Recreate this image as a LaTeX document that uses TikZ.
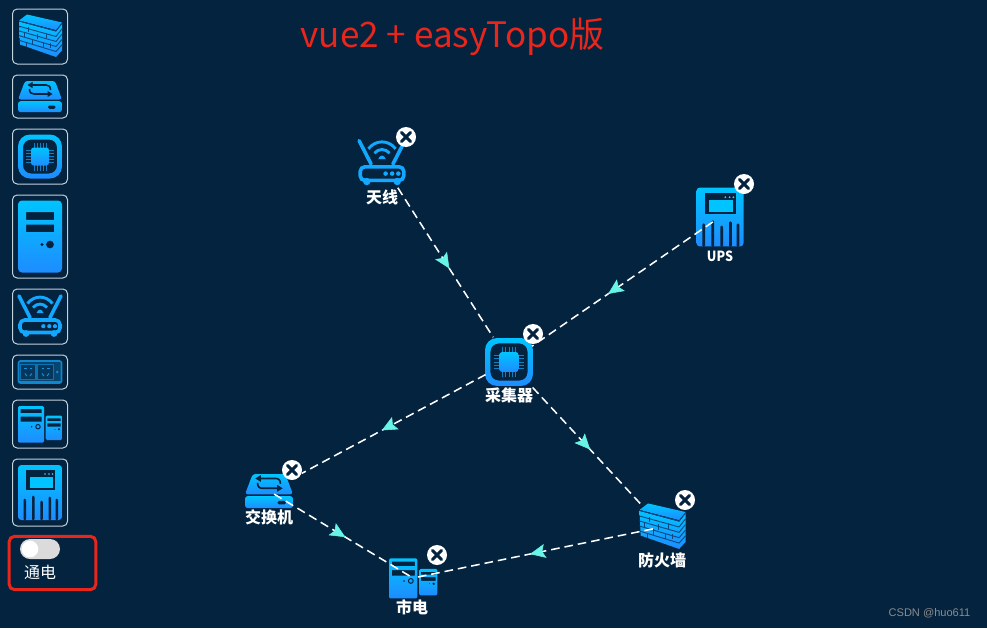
\documentclass[tikz,border=0pt]{standalone}
\usepackage{fontspec}
\setmainfont{Noto Sans CJK SC}
\newfontfamily\latinfont{Liberation Sans}
\usetikzlibrary{arrows.meta,decorations.markings}
\definecolor{bgc}{HTML}{03233F}
\definecolor{gtop}{HTML}{00C4FF}
\definecolor{gbot}{HTML}{1E8CFF}
\definecolor{midb}{HTML}{12A8FF}
\definecolor{arrowc}{HTML}{66F5E6}
\definecolor{boxc}{HTML}{C4D2DC}
\definecolor{redc}{HTML}{E8261C}
\tikzset{
  x=0.75pt,y=-0.75pt,
  grad/.style={top color=gtop,bottom color=gbot,draw=none,even odd rule},
  palettebox/.style={draw=boxc,line width=0.75pt,rounded corners=3.5pt},
  link/.style={draw=white,line width=1.15pt,dash pattern=on 6.5pt off 3.7pt},
  midarrow/.style={postaction={decorate},decoration={markings,mark=at position 0.53 with {\arrow[arrowc]{Stealth[length=11.5pt,width=10.5pt,inset=2.2pt]}}}},
  lbl/.style={text=white,font=\fontsize{12}{12}\selectfont\bfseries,inner sep=0pt},
  closebtn/.style={circle,fill=white,minimum size=15pt,inner sep=0pt},
  wallicon/.pic={
    \shade[grad] (-21,-16) -- (-13,-22) -- (22,-14) -- (16,-6.5) -- cycle;
    \shade[grad] (-21,-15) -- (16,-5) -- (16,20.5) -- (-20,8) -- cycle;
    \shade[grad] (16,-5) -- (22,-13) -- (22,14) -- (16,20.5) -- cycle;
    \foreach \k in {1,...,4}{
      \draw[bgc!65!gbot,line width=0.7pt] (-21,{-15+\k*4.7}) -- (16,{-5+\k*5});
      \draw[bgc!65!gbot,line width=0.7pt] (16,{-5+\k*5}) -- (22,{-13+\k*5.3});
    }
    \draw[bgc!65!gbot,line width=0.7pt] (-21,-15.5) -- (16,-5.5) -- (22,-13);
    \foreach \xa/\ya in {-12/-9.5,6/-3.5,-3/-2.5,-16/-5,10/6.5,-8/2,-14/5.5,3/6}{
      \draw[bgc!65!gbot,line width=0.7pt] (\xa,\ya) -- (\xa,{\ya+5});
    }
  },
  switchicon/.pic={
    \shade[grad,rounded corners=2pt] (-15,-15.5) -- (15,-15.5) -- (22,3) -- (-22,3) -- cycle;
    \shade[grad,rounded corners=2pt] (-22,4.7) rectangle (22,15.7);
    \fill[bgc,rounded corners=1pt] (8,9) rectangle (15.5,12.3);
    \draw[bgc,line width=1.2pt] (10.5,-6.5) .. controls (10.5,-10) and (9,-11.5) .. (6,-11.5) -- (-8,-11.5);
    \fill[bgc] (-12.5,-11.5) -- (-7.5,-14.6) -- (-7.5,-8.4) -- cycle;
    \draw[bgc,line width=1.2pt] (-10.5,-7.5) .. controls (-10.5,-4) and (-9,-2.5) .. (-6,-2.5) -- (8,-2.5);
    \fill[bgc] (12.5,-2.5) -- (7.5,-5.6) -- (7.5,0.6) -- cycle;
  },
  chipicon/.pic={
    \shade[grad,rounded corners=9pt] (-22,-22) rectangle (22,22) [rounded corners=6pt] (-17,-17) rectangle (17,17);
    \foreach \t in {-6,-3,0,3,6}{
      \draw[midb!70!bgc,line width=0.5pt] (\t,-14) -- (\t,14);
      \draw[midb!70!bgc,line width=0.5pt] (-14,\t) -- (14,\t);
    }
    \shade[grad,rounded corners=2pt] (-9,-9) rectangle (9,9);
  },
  towericon/.pic={
    \shade[grad,rounded corners=3pt] (-22,-36) rectangle (22,36)
      [sharp corners] (-14,-24.3) rectangle (14,-16.7) (-14,-12) rectangle (14,-4.3)
      (10,8) circle[radius=4] (2,8) circle[radius=1.8];
  },
  routericon/.pic={
    \draw[midb,line width=2.7pt,line cap=round] (-21,-20.5) -- (-10,1);
    \draw[midb,line width=2.7pt,line cap=round] (21,-20.5) -- (10,1);
    \draw[midb,line width=2.2pt] (-7,-9) .. controls (-3,-13.5) and (3,-13.5) .. (7,-9);
    \draw[midb,line width=2.2pt] (-12.5,-13) .. controls (-6,-21.5) and (6,-21.5) .. (12.5,-13);
    \fill[midb] (-3.5,-3.5) .. controls (-2,-8) and (2,-8) .. (3.5,-3.5) -- cycle;
    \draw[midb,line width=2.7pt,rounded corners=3.5pt,fill=bgc] (-20,3.5) rectangle (20,16);
    \fill[midb] (3.3,9.7) circle[radius=2.1] (9.3,9.7) circle[radius=2.1] (15,9.7) circle[radius=2.1];
    \fill[midb] (-14,17) circle[radius=3.4] (14,17) circle[radius=3.4];
  },
  socketicon/.pic={
    \draw[midb!75!bgc,line width=1.2pt,fill=midb!25!bgc,rounded corners=1.5pt] (-21.5,-11) rectangle (21.5,11);
    \draw[midb!60!bgc,line width=0.8pt,fill=bgc!85!midb] (-19.3,-7.5) rectangle (-4,7.5);
    \draw[midb!60!bgc,line width=0.8pt,fill=bgc!85!midb] (-2.3,-7.5) rectangle (13.3,7.5);
    \fill[midb!80!bgc] (17.3,0) circle[radius=1.4];
    \foreach \c in {-11.6,5.5}{
      \draw[midb!85!bgc,line width=0.7pt] (\c-4,-4) -- (\c-1.5,-4) (\c+1.5,-4) -- (\c+4,-4);
      \draw[midb!85!bgc,line width=0.7pt] (\c-3.5,1.5) -- (\c-1.5,4) (\c+3.5,1.5) -- (\c+1.5,4);
    }
    \draw[midb!75!bgc,line width=0.6pt] (-21,9) -- (21,9);
  },
  serversicon/.pic={
    \shade[grad,rounded corners=1pt] (-22,-18) rectangle (4,18.7)
      [sharp corners] (-19.3,-15) rectangle (1.7,-11) (-19.3,-7.3) rectangle (1.7,-2.3)
      (-8.3,2.7) circle[radius=1];
    \draw[bgc,line width=0.75pt] (-2,2.7) circle[radius=2.2];
    \shade[grad,rounded corners=1pt] (5.7,-8.3) rectangle (22.3,16)
      [sharp corners] (7.3,-5.7) rectangle (20.7,-3) (7.3,-0.7) rectangle (20.7,2.7)
      (19,5.3) circle[radius=1.4] (15,5.3) circle[radius=0.7];
  },
  upsicon/.pic={
    \shade[grad,rounded corners=2.5pt] (-22,-27.5) rectangle (22,27.5);
    \fill[bgc] (-14,-22.5) rectangle (15,-2.5);
    \fill[gtop] (-10,-15.5) rectangle (12.5,-5);
    \fill[midb!70!white] (5,-18.5) circle[radius=0.9] (9,-18.5) circle[radius=0.9] (12.5,-18.5) circle[radius=0.9];
    \foreach \xa/\ya in {-16.5/6,-8/3,0.3/8,8.5/4,15.5/6}{
      \fill[bgc,rounded corners=1pt] (\xa,\ya) rectangle ({\xa+2.5},28);
    }
  }
}
\begin{document}
\begin{tikzpicture}
\useasboundingbox (0,0) rectangle (987,628);
\fill[bgc] (0,0) rectangle (987,628);
% palette
\node[palettebox,minimum width=41.25pt,minimum height=41.25pt,inner sep=0pt] (p1) at (40,36.5) {};
\node[palettebox,minimum width=41.25pt,minimum height=32.25pt,inner sep=0pt] (p2) at (40,96.5) {};
\node[palettebox,minimum width=41.25pt,minimum height=41.25pt,inner sep=0pt] (p3) at (40,156.5) {};
\node[palettebox,minimum width=41.25pt,minimum height=62.25pt,inner sep=0pt] (p4) at (40,236.5) {};
\node[palettebox,minimum width=41.25pt,minimum height=41.25pt,inner sep=0pt] (p5) at (40,316.5) {};
\node[palettebox,minimum width=41.25pt,minimum height=25.5pt,inner sep=0pt] (p6) at (40,372) {};
\node[palettebox,minimum width=41.25pt,minimum height=36pt,inner sep=0pt] (p7) at (40,424) {};
\node[palettebox,minimum width=41.25pt,minimum height=50.25pt,inner sep=0pt] (p8) at (40,492.5) {};
\pic at (p1) {wallicon};
\pic at (p2) {switchicon};
\pic at (p3) {chipicon};
\pic at (p4) {towericon};
\pic at (p5) {routericon};
\pic at (p6) {socketicon};
\pic at (p7) {serversicon};
\pic at (p8) {upsicon};
% power switch
\node[draw=redc,line width=2.25pt,rounded corners=4pt,minimum width=65pt,minimum height=40pt,inner sep=0pt] (powerbox) at (52.5,563) {};
\node[fill=black!14,rounded corners=7.5pt,minimum width=30pt,minimum height=15pt,inner sep=0pt] (toggle) at (40,549) {};
\node[circle,fill=white,minimum size=12.5pt,inner sep=0pt] (knob) at (30,549) {};
\node[text=white,font=\fontsize{12}{12}\selectfont,inner sep=0pt] (power) at (40,572) {通电};
% title
\node[text=redc,font=\fontsize{26.3}{27}\selectfont,inner sep=0pt] (title) at (452.5,37) {vue2 + easyTopo版};
\node[text=black!45,font=\latinfont\fontsize{8.3}{9}\selectfont,inner sep=0pt] (wm) at (929.5,613) {CSDN @huo611};
% devices
\coordinate (ant) at (382,163);
\coordinate (ups) at (720,217);
\coordinate (col) at (509,362);
\coordinate (swi) at (269,491);
\coordinate (wal) at (662,527);
\coordinate (mai) at (413,578);
\pic[scale=1.09] at (ant) {routericon};
\pic[scale=1.07] at (ups) {upsicon};
\pic[scale=1.09] at (col) {chipicon};
\pic[scale=1.09] at (swi) {switchicon};
\pic[scale=1.07] at (wal) {wallicon};
\pic[scale=1.09] at (mai) {serversicon};
% links
\draw[link,shorten <=22pt,shorten >=22pt] (ant) -- (col);
\path[midarrow] (ant) -- (col);
\draw[link,shorten <=6.5pt,shorten >=21pt] (ups) -- (col);
\path[midarrow] (ups) -- (col);
\draw[link,shorten <=20pt,shorten >=28pt] (col) -- (swi);
\path[midarrow] (col) -- (swi);
\draw[link,shorten <=26pt,shorten >=22pt] (col) -- (wal);
\path[midarrow] (col) -- (wal);
\draw[link,shorten <=4.5pt] (swi) -- (mai);
\path[midarrow] (swi) -- (mai);
\draw[link,shorten <=7pt,shorten >=3.5pt] (wal) -- (mai);
\path[midarrow] (wal) -- (mai);
% labels
\node[lbl] (antl) at (382,197) {天线};
\node[lbl,font=\fontsize{10.5}{12}\selectfont\bfseries,transform shape,xscale=0.9] (upsl) at (720,256) {UPS};
\node[lbl] (coll) at (509,395) {采集器};
\node[lbl] (swil) at (269,517) {交换机};
\node[lbl] (wall) at (662,560) {防火墙};
\node[lbl] (mail) at (412,607) {市电};
% close buttons
\foreach \n/\xa/\ya in {c1/406/137,c2/744/184,c3/533/334,c4/292/470,c5/685/500,c6/437/555}{
  \node[closebtn] (\n) at (\xa,\ya) {};
  \draw[bgc,line width=2.3pt,line cap=round] ([shift={(-4.5,-4.5)}]\n.center) -- ([shift={(4.5,4.5)}]\n.center);
  \draw[bgc,line width=2.3pt,line cap=round] ([shift={(-4.5,4.5)}]\n.center) -- ([shift={(4.5,-4.5)}]\n.center);
}
\end{tikzpicture}
\end{document}
